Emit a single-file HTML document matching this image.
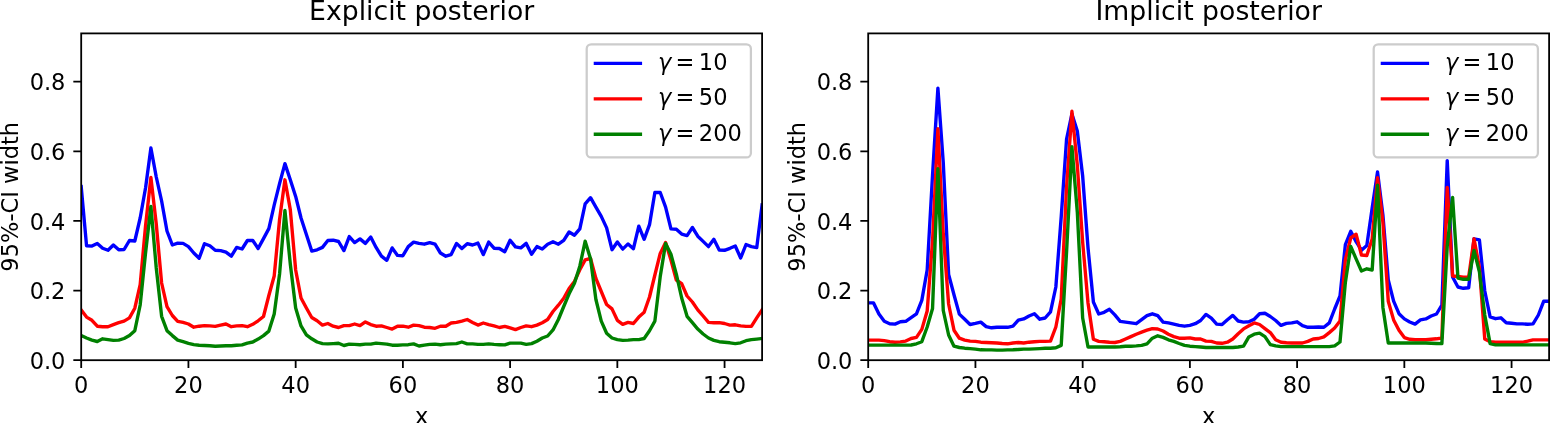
<!DOCTYPE html>
<html><head><meta charset="utf-8"><title>Explicit vs implicit posterior</title>
<style>html,body{margin:0;padding:0;background:#fff;overflow:hidden;width:1550px;height:423px}svg{display:block}</style>
</head><body>
<svg width="1550" height="423" viewBox="0 0 1550 423">
<rect width="1550" height="423" fill="#fff"/>
<clipPath id="clip0"><rect x="81.2" y="33.4" width="680.9" height="326.8"/></clipPath>
<path d="M81.2 360.2V368.07M188.43 360.2V368.07M295.66 360.2V368.07M402.89 360.2V368.07M510.11 360.2V368.07M617.34 360.2V368.07M724.57 360.2V368.07M81.2 360.2H73.33M81.2 290.58H73.33M81.2 220.96H73.33M81.2 151.34H73.33M81.2 81.72H73.33" stroke="#000" stroke-width="1.8" fill="none"/>
<text x="81.2" y="393.05" text-anchor="middle" style="font-size:22.5px;font-family:'DejaVu Sans',sans-serif">0</text>
<text x="188.43" y="393.05" text-anchor="middle" style="font-size:22.5px;font-family:'DejaVu Sans',sans-serif">20</text>
<text x="295.66" y="393.05" text-anchor="middle" style="font-size:22.5px;font-family:'DejaVu Sans',sans-serif">40</text>
<text x="402.89" y="393.05" text-anchor="middle" style="font-size:22.5px;font-family:'DejaVu Sans',sans-serif">60</text>
<text x="510.11" y="393.05" text-anchor="middle" style="font-size:22.5px;font-family:'DejaVu Sans',sans-serif">80</text>
<text x="617.34" y="393.05" text-anchor="middle" style="font-size:22.5px;font-family:'DejaVu Sans',sans-serif">100</text>
<text x="724.57" y="393.05" text-anchor="middle" style="font-size:22.5px;font-family:'DejaVu Sans',sans-serif">120</text>
<text x="65.45" y="368.75" text-anchor="end" style="font-size:22.5px;font-family:'DejaVu Sans',sans-serif">0.0</text>
<text x="65.45" y="299.13" text-anchor="end" style="font-size:22.5px;font-family:'DejaVu Sans',sans-serif">0.2</text>
<text x="65.45" y="229.51" text-anchor="end" style="font-size:22.5px;font-family:'DejaVu Sans',sans-serif">0.4</text>
<text x="65.45" y="159.89" text-anchor="end" style="font-size:22.5px;font-family:'DejaVu Sans',sans-serif">0.6</text>
<text x="65.45" y="90.27" text-anchor="end" style="font-size:22.5px;font-family:'DejaVu Sans',sans-serif">0.8</text>
<text x="421.65" y="423.82" text-anchor="middle" style="font-size:22.5px;font-family:'DejaVu Sans',sans-serif">x</text>
<text transform="translate(17.6 196.8) rotate(-90)" text-anchor="middle" style="font-size:22.5px;font-family:'DejaVu Sans',sans-serif">95%-CI width</text>
<polyline clip-path="url(#clip0)" points="81.2,186.6 86.56,245.8 91.92,246.1 97.28,243.4 102.65,248.2 108.01,250.3 113.37,245 118.73,249.8 124.09,249.5 129.45,240.5 134.81,241 140.18,218 145.54,188 150.9,148 156.26,177 161.62,201 166.98,231 172.34,245 177.71,243.1 183.07,243.4 188.43,246.6 193.79,253 199.15,258.2 204.51,243.7 209.87,245.8 215.24,250.3 220.6,250.6 225.96,252.2 231.32,256.2 236.68,247.4 242.04,249 247.4,240.5 252.77,240.5 258.13,248.5 263.49,238.6 268.85,228.6 274.21,205 279.57,183.6 284.93,163.6 290.3,179.8 295.66,196.4 301.02,218 306.38,234.5 311.74,251.1 317.1,249.8 322.46,247.4 327.83,240.5 333.19,240.2 338.55,241.5 343.91,250.6 349.27,236.6 354.63,242.6 359.99,238.9 365.36,243.4 370.72,237 376.08,247.4 381.44,256.2 386.8,260.3 392.16,247.9 397.52,255.4 402.89,255.7 408.25,246.6 413.61,242.1 418.97,243.4 424.33,244.2 429.69,242.6 435.05,244.2 440.41,253 445.78,256.2 451.14,254.6 456.5,243.4 461.86,248.5 467.22,243.7 472.58,245 477.94,243.1 483.31,254.6 488.67,242.1 494.03,248.2 499.39,248.5 504.75,251.7 510.11,240.2 515.47,246.9 520.84,247.9 526.2,243.4 531.56,254.3 536.92,246.6 542.28,249 547.64,244.2 553,241.8 558.37,244.2 563.73,240.4 569.09,232 574.45,235.2 579.81,228.9 585.17,203.9 590.53,197.7 595.9,207.1 601.26,216.4 606.62,227.9 611.98,249.7 617.34,242 622.7,249.1 628.06,243.9 633.43,248.7 638.79,226.2 644.15,239.3 649.51,224.7 654.87,192.5 660.23,192.5 665.59,207.1 670.96,228.9 676.32,229.3 681.68,234.1 687.04,235.6 692.4,227.5 697.76,236.2 703.12,241.4 708.49,246.6 713.85,239.3 719.21,250.1 724.57,250.3 729.93,248.3 735.29,246 740.65,258 746.02,244.5 751.38,246.6 756.74,247.6 762.1,205" fill="none" stroke="#0000ff" stroke-width="3.375" stroke-linejoin="round" stroke-linecap="square"/>
<polyline clip-path="url(#clip0)" points="81.2,309.9 86.56,317.1 91.92,320.3 97.28,326.2 102.65,326.7 108.01,326.7 113.37,324.6 118.73,322.7 124.09,321.1 129.45,317.9 134.81,308.2 140.18,284.7 145.54,226 150.9,177.5 156.26,224 161.62,283 166.98,306.6 172.34,315.5 177.71,321.4 183.07,322.4 188.43,324 193.79,327.2 199.15,326.2 204.51,325.6 209.87,325.9 215.24,326.4 220.6,325.1 225.96,324 231.32,326.7 236.68,325.9 242.04,325.6 247.4,326.7 252.77,324.3 258.13,320.8 263.49,316.5 268.85,295.5 274.21,276 279.57,219.5 284.93,179.8 290.3,209.6 295.66,270 301.02,298 306.38,308 311.74,317.5 317.1,320.8 322.46,325.1 327.83,323.5 333.19,326.2 338.55,327.5 343.91,325.6 349.27,325.6 354.63,324 359.99,325.6 365.36,321.9 370.72,324.6 376.08,326.2 381.44,325.9 386.8,327.5 392.16,329.1 397.52,326.2 402.89,326.1 408.25,327.2 413.61,325.1 418.97,325.6 424.33,327.2 429.69,327.5 435.05,328.3 440.41,326.2 445.78,326.2 451.14,323 456.5,322.4 461.86,321.1 467.22,319.5 472.58,322.4 477.94,325.1 483.31,323 488.67,324.6 494.03,325.9 499.39,327.5 504.75,326.4 510.11,327.9 515.47,329.6 520.84,327.5 526.2,325.9 531.56,326.7 536.92,325.1 542.28,322.7 547.64,319.5 553,311.5 558.37,305.2 563.73,298.3 569.09,288.5 574.45,281.5 579.81,269.8 585.17,259.9 590.53,258.5 595.9,278.4 601.26,291.5 606.62,304.5 611.98,308.9 617.34,320.3 622.7,324.3 628.06,322.4 633.43,323.5 638.79,317.1 644.15,312.3 649.51,297 654.87,275 660.23,253.4 665.59,242.6 670.96,260 676.32,280 681.68,283.6 687.04,296 692.4,302 697.76,309.9 703.12,316 708.49,322.4 713.85,322.7 719.21,322.7 724.57,323.5 729.93,325.1 735.29,324.8 740.65,325.9 746.02,326.4 751.38,326.4 756.74,317.9 762.1,309.9" fill="none" stroke="#ff0000" stroke-width="3.375" stroke-linejoin="round" stroke-linecap="square"/>
<polyline clip-path="url(#clip0)" points="81.2,335.6 86.56,338 91.92,340.1 97.28,341.5 102.65,338.8 108.01,339.6 113.37,340.4 118.73,340.1 124.09,338.5 129.45,335.6 134.81,330.7 140.18,305 145.54,253 150.9,206.4 156.26,268 161.62,316.3 166.98,330.7 172.34,335.6 177.71,340.1 183.07,341.7 188.43,343.3 193.79,344.6 199.15,345.2 204.51,345.5 209.87,345.8 215.24,346.2 220.6,346 225.96,345.8 231.32,345.7 236.68,345.2 242.04,344.9 247.4,343.1 252.77,342 258.13,339.1 263.49,335.6 268.85,331.1 274.21,314 279.57,274 284.93,210.4 290.3,264 295.66,308 301.02,325.9 306.38,334.8 311.74,338.8 317.1,342 322.46,343.6 327.83,343.9 333.19,343.6 338.55,343.3 343.91,345.5 349.27,344.1 354.63,344.4 359.99,344.7 365.36,344.1 370.72,344.1 376.08,343.1 381.44,343.6 386.8,344.1 392.16,345.2 397.52,345.2 402.89,344.9 408.25,344.7 413.61,343.9 418.97,346 424.33,345.2 429.69,344.4 435.05,344.1 440.41,344.7 445.78,344.1 451.14,343.9 456.5,343.6 461.86,342 467.22,343.9 472.58,343.9 477.94,344.4 483.31,344.4 488.67,343.9 494.03,344.4 499.39,344.7 504.75,344.9 510.11,343.1 515.47,343.1 520.84,343.1 526.2,344.4 531.56,343.6 536.92,341.2 542.28,338 547.64,336 553,329.9 558.37,319.5 563.73,306.5 569.09,293.8 574.45,283.2 579.81,266.2 585.17,241.2 590.53,258.8 595.9,299.5 601.26,321.1 606.62,333.2 611.98,338 617.34,339.6 622.7,340.4 628.06,340.1 633.43,339.6 638.79,339.6 644.15,338.5 649.51,330.7 654.87,321.1 660.23,276.6 665.59,243.5 670.96,254.3 676.32,274.2 681.68,298 687.04,316.3 692.4,322.7 697.76,329.1 703.12,334 708.49,338 713.85,340.4 719.21,341.7 724.57,342.3 729.93,342.8 735.29,343.6 740.65,342.8 746.02,340.7 751.38,339.6 756.74,339.1 762.1,338.5" fill="none" stroke="#008000" stroke-width="3.375" stroke-linejoin="round" stroke-linecap="square"/>
<rect x="81.2" y="33.4" width="680.9" height="326.8" fill="none" stroke="#000" stroke-width="1.8" stroke-linejoin="miter"/>
<text x="421.65" y="20.1" text-anchor="middle" style="font-size:26.7px;font-family:'DejaVu Sans',sans-serif">Explicit posterior</text>
<rect x="586.7" y="44.3" width="164.2" height="113.1" rx="4.5" ry="4.5" fill="#fff" fill-opacity="0.8" stroke="#cccccc" stroke-width="2.25"/>
<path d="M595.4 63.4H640.4" stroke="#0000ff" stroke-width="3.375" stroke-linecap="square"/>
<text y="70" style="font-size:22.5px;font-family:'DejaVu Sans',sans-serif"><tspan x="657.9" style="font-style:oblique">γ</tspan><tspan x="675.6">=</tspan><tspan x="698.84">1</tspan><tspan x="713.15">0</tspan></text>
<path d="M595.4 98.85H640.4" stroke="#ff0000" stroke-width="3.375" stroke-linecap="square"/>
<text y="105.45" style="font-size:22.5px;font-family:'DejaVu Sans',sans-serif"><tspan x="657.9" style="font-style:oblique">γ</tspan><tspan x="675.6">=</tspan><tspan x="698.84">5</tspan><tspan x="713.15">0</tspan></text>
<path d="M595.4 134.3H640.4" stroke="#008000" stroke-width="3.375" stroke-linecap="square"/>
<text y="140.9" style="font-size:22.5px;font-family:'DejaVu Sans',sans-serif"><tspan x="657.9" style="font-style:oblique">γ</tspan><tspan x="675.6">=</tspan><tspan x="698.84">2</tspan><tspan x="713.15">0</tspan><tspan x="727.46">0</tspan></text>
<clipPath id="clip1"><rect x="868.2" y="33.4" width="680.9" height="326.8"/></clipPath>
<path d="M868.2 360.2V368.07M975.43 360.2V368.07M1082.66 360.2V368.07M1189.89 360.2V368.07M1297.11 360.2V368.07M1404.34 360.2V368.07M1511.57 360.2V368.07M868.2 360.2H860.33M868.2 290.58H860.33M868.2 220.96H860.33M868.2 151.34H860.33M868.2 81.72H860.33" stroke="#000" stroke-width="1.8" fill="none"/>
<text x="868.2" y="393.05" text-anchor="middle" style="font-size:22.5px;font-family:'DejaVu Sans',sans-serif">0</text>
<text x="975.43" y="393.05" text-anchor="middle" style="font-size:22.5px;font-family:'DejaVu Sans',sans-serif">20</text>
<text x="1082.66" y="393.05" text-anchor="middle" style="font-size:22.5px;font-family:'DejaVu Sans',sans-serif">40</text>
<text x="1189.89" y="393.05" text-anchor="middle" style="font-size:22.5px;font-family:'DejaVu Sans',sans-serif">60</text>
<text x="1297.11" y="393.05" text-anchor="middle" style="font-size:22.5px;font-family:'DejaVu Sans',sans-serif">80</text>
<text x="1404.34" y="393.05" text-anchor="middle" style="font-size:22.5px;font-family:'DejaVu Sans',sans-serif">100</text>
<text x="1511.57" y="393.05" text-anchor="middle" style="font-size:22.5px;font-family:'DejaVu Sans',sans-serif">120</text>
<text x="852.45" y="368.75" text-anchor="end" style="font-size:22.5px;font-family:'DejaVu Sans',sans-serif">0.0</text>
<text x="852.45" y="299.13" text-anchor="end" style="font-size:22.5px;font-family:'DejaVu Sans',sans-serif">0.2</text>
<text x="852.45" y="229.51" text-anchor="end" style="font-size:22.5px;font-family:'DejaVu Sans',sans-serif">0.4</text>
<text x="852.45" y="159.89" text-anchor="end" style="font-size:22.5px;font-family:'DejaVu Sans',sans-serif">0.6</text>
<text x="852.45" y="90.27" text-anchor="end" style="font-size:22.5px;font-family:'DejaVu Sans',sans-serif">0.8</text>
<text x="1208.65" y="423.82" text-anchor="middle" style="font-size:22.5px;font-family:'DejaVu Sans',sans-serif">x</text>
<text transform="translate(804.6 196.8) rotate(-90)" text-anchor="middle" style="font-size:22.5px;font-family:'DejaVu Sans',sans-serif">95%-CI width</text>
<polyline clip-path="url(#clip1)" points="868.2,302.9 873.56,302.9 878.92,314.1 884.28,321.3 889.65,323.7 895.01,324.1 900.37,321.8 905.73,321.3 911.09,317.6 916.45,313.8 921.81,300.4 927.18,270 932.54,175 937.9,88.1 943.26,162.6 948.62,274.4 953.98,294.8 959.34,314.1 964.71,319.2 970.07,324.5 975.43,323.4 980.79,322.1 986.15,326.6 991.51,327.8 996.87,327.3 1002.24,327.3 1007.6,327.3 1012.96,326.2 1018.32,320.2 1023.68,318.9 1029.04,316 1034.4,313.8 1039.77,319.2 1045.13,318 1050.49,311.8 1055.85,287 1061.21,217 1066.57,139 1071.93,113.9 1077.3,131 1082.66,176 1088.02,248 1093.38,302 1098.74,314 1104.1,312.3 1109.46,309.3 1114.83,314.9 1120.19,321.3 1125.55,322.1 1130.91,322.9 1136.27,323.7 1141.63,319.7 1146.99,315.7 1152.36,313.8 1157.72,315.7 1163.08,322.1 1168.44,322.9 1173.8,324.1 1179.16,325.4 1184.52,326.2 1189.89,325.4 1195.25,323.7 1200.61,320.5 1205.97,314.4 1211.33,318.1 1216.69,324.1 1222.05,324.5 1227.41,319.7 1232.78,315.4 1238.14,321 1243.5,322.1 1248.86,321.8 1254.22,319.2 1259.58,313.8 1264.94,313.3 1270.31,316.5 1275.67,320.5 1281.03,325.4 1286.39,323.4 1291.75,322.9 1297.11,321.8 1302.47,325.7 1307.84,327.3 1313.2,327.3 1318.56,327 1323.92,327.3 1329.28,322.9 1334.64,309 1340,296 1345.37,244.6 1350.73,231.3 1356.09,241.7 1361.45,250.2 1366.81,245.5 1372.17,208 1377.53,171.9 1382.9,215 1388.26,280 1393.62,301.2 1398.98,313.7 1404.34,318.9 1409.7,322 1415.06,324.1 1420.43,319.9 1425.79,318.9 1431.15,316 1436.51,314 1441.87,305 1447.23,160.6 1452.59,277 1457.96,287 1463.32,288.3 1468.68,287.7 1474.04,238.8 1479.4,239.9 1484.76,291 1490.12,316.9 1495.49,318.7 1500.85,317.8 1506.21,322.8 1511.57,323.3 1516.93,323.9 1522.29,323.9 1527.65,324.2 1533.02,323.9 1538.38,315 1543.74,301.2 1549.1,301.2" fill="none" stroke="#0000ff" stroke-width="3.375" stroke-linejoin="round" stroke-linecap="square"/>
<polyline clip-path="url(#clip1)" points="868.2,340.1 873.56,340.1 878.92,340.1 884.28,340.6 889.65,341.7 895.01,342.2 900.37,341.9 905.73,341.1 911.09,338.5 916.45,337.4 921.81,329.4 927.18,311 932.54,241 937.9,128.8 943.26,234 948.62,304 953.98,330.2 959.34,338.2 964.71,340.1 970.07,341.1 975.43,341.4 980.79,342.2 986.15,342.5 991.51,342.7 996.87,343 1002.24,343.5 1007.6,343.8 1012.96,343 1018.32,342.5 1023.68,343 1029.04,342.2 1034.4,341.7 1039.77,341.4 1045.13,341.4 1050.49,341.1 1055.85,327 1061.21,299 1066.57,187 1071.93,111.3 1077.3,165 1082.66,242 1088.02,303 1093.38,339.2 1098.74,341.4 1104.1,341.7 1109.46,342.2 1114.83,342.5 1120.19,341.4 1125.55,339 1130.91,336.6 1136.27,334.2 1141.63,332.1 1146.99,330.2 1152.36,328.6 1157.72,329 1163.08,331 1168.44,334.2 1173.8,336.6 1179.16,338.2 1184.52,338.2 1189.89,337.9 1195.25,339 1200.61,339 1205.97,341.1 1211.33,341.4 1216.69,343 1222.05,343.3 1227.41,342.2 1232.78,339 1238.14,333.7 1243.5,328.9 1248.86,325.7 1254.22,322.9 1259.58,324.5 1264.94,328.6 1270.31,332.6 1275.67,339.8 1281.03,342.2 1286.39,342.7 1291.75,343 1297.11,343 1302.47,343 1307.84,341.4 1313.2,339 1318.56,338.5 1323.92,336.9 1329.28,332.6 1334.64,328 1340,321 1345.37,259.7 1350.73,238 1356.09,234.2 1361.45,255 1366.81,255.5 1372.17,239 1377.53,177.6 1382.9,222 1388.26,301.2 1393.62,319.9 1398.98,330.3 1404.34,337.6 1409.7,339.3 1415.06,339.7 1420.43,339.7 1425.79,339.7 1431.15,339.3 1436.51,338.8 1441.87,338 1447.23,187.4 1452.59,276 1457.96,276.5 1463.32,277.1 1468.68,277.1 1474.04,238.8 1479.4,267.6 1484.76,339 1490.12,341.8 1495.49,342.3 1500.85,342.3 1506.21,342.3 1511.57,342.3 1516.93,342.3 1522.29,342.3 1527.65,341.2 1533.02,339.9 1538.38,339.9 1543.74,339.9 1549.1,339.9" fill="none" stroke="#ff0000" stroke-width="3.375" stroke-linejoin="round" stroke-linecap="square"/>
<polyline clip-path="url(#clip1)" points="868.2,345.1 873.56,345.1 878.92,345.1 884.28,345.1 889.65,345.1 895.01,345.1 900.37,345.1 905.73,345.1 911.09,345 916.45,343.8 921.81,341.7 927.18,327 932.54,308.5 937.9,168.8 943.26,310.5 948.62,335 953.98,346.2 959.34,347.5 964.71,348.2 970.07,348.6 975.43,349.1 980.79,349.8 986.15,349.9 991.51,349.9 996.87,350.1 1002.24,350.1 1007.6,349.9 1012.96,349.8 1018.32,349.5 1023.68,349.1 1029.04,349.1 1034.4,348.9 1039.77,348.6 1045.13,348.3 1050.49,348.2 1055.85,347.8 1061.21,345.4 1066.57,252 1071.93,146.6 1077.3,212 1082.66,318 1088.02,347 1093.38,347 1098.74,347 1104.1,347 1109.46,347 1114.83,347 1120.19,346.7 1125.55,346.2 1130.91,346.2 1136.27,345.9 1141.63,345.4 1146.99,343.8 1152.36,338.2 1157.72,335.8 1163.08,337.4 1168.44,339.8 1173.8,341.4 1179.16,343.5 1184.52,345.4 1189.89,346.2 1195.25,346.6 1200.61,347 1205.97,347.5 1211.33,347.5 1216.69,347.5 1222.05,347.5 1227.41,347.5 1232.78,347.5 1238.14,347 1243.5,346.2 1248.86,336.9 1254.22,334.2 1259.58,333.1 1264.94,336.6 1270.31,344.6 1275.67,345.9 1281.03,346.6 1286.39,346.6 1291.75,346.6 1297.11,346.6 1302.47,346.6 1307.84,346.6 1313.2,346.6 1318.56,346.6 1323.92,346.6 1329.28,346.6 1334.64,345.9 1340,342 1345.37,282.4 1350.73,246.5 1356.09,258.8 1361.45,271 1366.81,268.8 1372.17,270 1377.53,185.1 1382.9,307.4 1388.26,343 1393.62,343 1398.98,343 1404.34,343 1409.7,343 1415.06,343 1420.43,343 1425.79,343 1431.15,343.3 1436.51,343.5 1441.87,343.6 1447.23,246.3 1452.59,197.4 1457.96,278.2 1463.32,279.3 1468.68,279.3 1474.04,250.5 1479.4,271.8 1484.76,315 1490.12,343.6 1495.49,344.9 1500.85,344.9 1506.21,344.9 1511.57,344.9 1516.93,344.9 1522.29,344.9 1527.65,344.9 1533.02,344.9 1538.38,344.9 1543.74,344.9 1549.1,344.9" fill="none" stroke="#008000" stroke-width="3.375" stroke-linejoin="round" stroke-linecap="square"/>
<rect x="868.2" y="33.4" width="680.9" height="326.8" fill="none" stroke="#000" stroke-width="1.8" stroke-linejoin="miter"/>
<text x="1208.65" y="20.1" text-anchor="middle" style="font-size:26.7px;font-family:'DejaVu Sans',sans-serif">Implicit posterior</text>
<rect x="1373.7" y="44.3" width="164.2" height="113.1" rx="4.5" ry="4.5" fill="#fff" fill-opacity="0.8" stroke="#cccccc" stroke-width="2.25"/>
<path d="M1382.4 63.4H1427.4" stroke="#0000ff" stroke-width="3.375" stroke-linecap="square"/>
<text y="70" style="font-size:22.5px;font-family:'DejaVu Sans',sans-serif"><tspan x="1444.9" style="font-style:oblique">γ</tspan><tspan x="1462.6">=</tspan><tspan x="1485.84">1</tspan><tspan x="1500.15">0</tspan></text>
<path d="M1382.4 98.85H1427.4" stroke="#ff0000" stroke-width="3.375" stroke-linecap="square"/>
<text y="105.45" style="font-size:22.5px;font-family:'DejaVu Sans',sans-serif"><tspan x="1444.9" style="font-style:oblique">γ</tspan><tspan x="1462.6">=</tspan><tspan x="1485.84">5</tspan><tspan x="1500.15">0</tspan></text>
<path d="M1382.4 134.3H1427.4" stroke="#008000" stroke-width="3.375" stroke-linecap="square"/>
<text y="140.9" style="font-size:22.5px;font-family:'DejaVu Sans',sans-serif"><tspan x="1444.9" style="font-style:oblique">γ</tspan><tspan x="1462.6">=</tspan><tspan x="1485.84">2</tspan><tspan x="1500.15">0</tspan><tspan x="1514.46">0</tspan></text>
</svg>
</body></html>
